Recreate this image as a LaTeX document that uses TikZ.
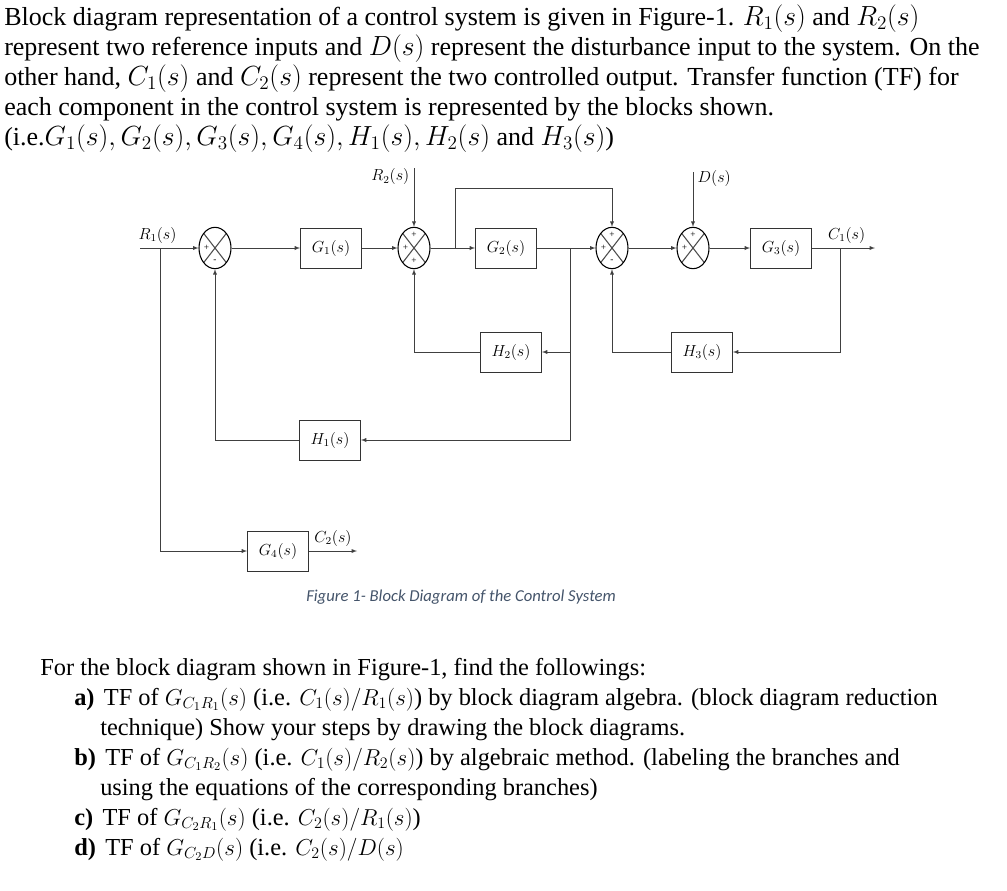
\documentclass[tikz,border=0pt]{standalone}
\usepackage{fontspec}
\setmainfont{Liberation Serif}
\newfontfamily\capfont{Carlito}
\usetikzlibrary{shapes.geometric, arrows}
\definecolor{capgray}{RGB}{68,84,106}
\tikzstyle{block} = [rectangle, minimum width=46pt, minimum height=30pt, text centered, draw=black!80, font=\fontsize{12}{14}\selectfont]
\tikzstyle{sum} = [ellipse, minimum width=24pt, minimum height=31pt, draw=black, thick, inner sep=0pt, path picture={\draw[black!70] (path picture bounding box.north west) -- (path picture bounding box.south east); \draw[black!70] (path picture bounding box.south west) -- (path picture bounding box.north east);}]
\tikzstyle{sgn} = [font=\fontsize{7}{8}\selectfont, inner sep=0.5pt]
\tikzstyle{lbl} = [font=\fontsize{12}{14}\selectfont]
\tikzstyle{arrow} = [draw=black!75, ->, >=latex]
\tikzstyle{txt} = [anchor=base west, inner sep=0pt, font=\fontsize{19.5}{22}\selectfont]
\tikzstyle{qtxt} = [anchor=base west, inner sep=0pt, font=\fontsize{18.3}{22}\selectfont]
\begin{document}
\begin{tikzpicture}[x=0.75pt, y=-0.75pt]
\useasboundingbox (0,0) rectangle (1007,890);
% text above the figure
\node[txt] (t1) at (4,25) {Block diagram representation of a control system is given in Figure-1. $R_1(s)$ and $R_2(s)$};
\node[txt] (t2) at (4,55) {represent two reference inputs and $D(s)$ represent the disturbance input to the system. On the};
\node[txt] (t3) at (4,85) {other hand, $C_1(s)$ and $C_2(s)$ represent the two controlled output. Transfer function (TF) for};
\node[txt] (t4) at (4,115) {each component in the control system is represented by the blocks shown.};
\node[txt] (t5) at (4,145) {(i.e.$G_1(s), G_2(s), G_3(s), G_4(s), H_1(s), H_2(s)$ and $H_3(s)$)};

% blocks and summing points
\coordinate (in) at (140,248);
\node (s1) [sum] at (215,248) {};
\node (g1) [block] at (331,248) {$G_1(s)$};
\node (s2) [sum] at (414,248) {};
\node (g2) [block] at (506,248) {$G_2(s)$};
\node (s3) [sum] at (612,248) {};
\node (s4) [sum] at (693,248) {};
\node (g3) [block] at (781,248) {$G_3(s)$};
\coordinate (out) at (875,248);
\node (h2) [block] at (511,352) {$H_2(s)$};
\node (h3) [block] at (702,352) {$H_3(s)$};
\node (h1) [block] at (330,440) {$H_1(s)$};
\node (g4) [block] at (278,551) {$G_4(s)$};
\coordinate (c2) at (357,551);
\coordinate (r2) at (414,168);
\coordinate (d) at (693,172);
\coordinate (b1) at (160,248);
\coordinate (ff) at (455,248);
\coordinate (fftop) at (612,188);
\coordinate (b2) at (570,248);
\coordinate (b3) at (840,248);

% signs
\node[sgn] at ([xshift=6pt]s1.west) {+};
\node[sgn] at ([yshift=6pt]s1.south) {-};
\node[sgn] at ([xshift=6pt]s2.west) {+};
\node[sgn] at ([yshift=-6pt]s2.north) {+};
\node[sgn] at ([yshift=6pt]s2.south) {+};
\node[sgn] at ([xshift=6pt]s3.west) {+};
\node[sgn] at ([yshift=-6pt]s3.north) {+};
\node[sgn] at ([yshift=6pt]s3.south) {-};
\node[sgn] at ([xshift=6pt]s4.west) {+};
\node[sgn] at ([yshift=-6pt]s4.north) {+};

% forward path
\draw[arrow] (in) -- node[lbl, pos=0.3, above] {$R_1(s)$} (s1);
\draw[arrow] (s1) -- (g1);
\draw[arrow] (g1) -- (s2);
\draw[arrow] (s2) -- (g2);
\draw[arrow] (g2) -- (s3);
\draw[arrow] (s3) -- (s4);
\draw[arrow] (s4) -- (g3);
\draw[arrow] (g3) -- node[lbl, pos=0.55, above] {$C_1(s)$} (out);
\draw[arrow] (r2) -- node[lbl, pos=0.15, left] {$R_2(s)$} (s2);
\draw[arrow] (d) -- node[lbl, pos=0.12, right] {$D(s)$} (s4);
\draw[arrow] (ff) |- (fftop) -- (s3);

% feedback paths
\draw[arrow] (b1) |- (g4);
\draw[arrow] (g4) -- node[lbl, above] {$C_2(s)$} (c2);
\draw[arrow] (b2) |- (h2);
\draw[arrow] (b2) |- (h1);
\draw[arrow] (h2) -| (s2);
\draw[arrow] (h1) -| (s1);
\draw[arrow] (b3) |- (h3);
\draw[arrow] (h3) -| (s3);

\node (cap) [anchor=base west, inner sep=0pt, text=capgray, font=\capfont\itshape\fontsize{12.5}{14}\selectfont] at (306,601) {Figure 1- Block Diagram of the Control System};

% questions
\node[qtxt] (q0) at (40,675) {For the block diagram shown in Figure-1, find the followings:};
\node[qtxt] (qa) at (74,705) {\textbf{a)}\hspace{7pt}TF of $G_{C_1R_1}(s)$ (i.e. $C_1(s)/R_1(s)$) by block diagram algebra. (block diagram reduction};
\node[qtxt] (qa2) at (100,735) {technique) Show your steps by drawing the block diagrams.};
\node[qtxt] (qb) at (74,765) {\textbf{b)}\hspace{7pt}TF of $G_{C_1R_2}(s)$ (i.e. $C_1(s)/R_2(s)$) by algebraic method. (labeling the branches and};
\node[qtxt] (qb2) at (100,795) {using the equations of the corresponding branches)};
\node[qtxt] (qc) at (74,825) {\textbf{c)}\hspace{7pt}TF of $G_{C_2R_1}(s)$ (i.e. $C_2(s)/R_1(s)$)};
\node[qtxt] (qd) at (74,855) {\textbf{d)}\hspace{7pt}TF of $G_{C_2D}(s)$ (i.e. $C_2(s)/D(s)$};
\end{tikzpicture}
\end{document}
